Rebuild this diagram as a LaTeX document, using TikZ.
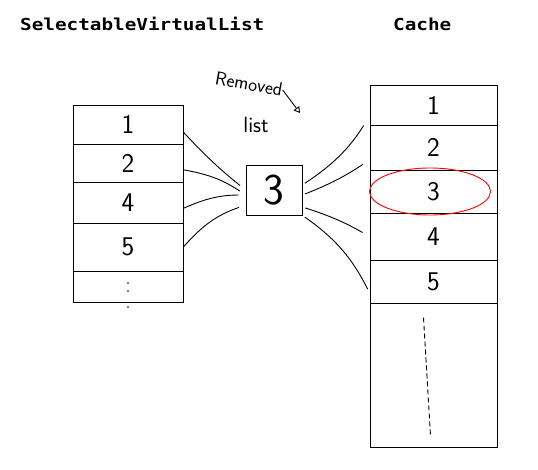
\documentclass[tikz,border=0pt]{standalone}
\usepackage{fontspec}
\usetikzlibrary{arrows.meta}
\newfontfamily\titlefont[FakeStretch=1.17]{DejaVu Sans Mono}
\newcommand{\handfont}{\sffamily\fontsize{27}{27}\selectfont}
\tikzset{
 heading/.style={anchor=base west,inner sep=0,font=\titlefont\bfseries\fontsize{16.5}{18}\selectfont},
 slot/.style={draw,line width=.9pt,minimum width=110pt,inner sep=0,font=\handfont},
 cacheslot/.style={slot,minimum width=127pt},
 holder/.style={draw,line width=.9pt,minimum width=56pt,minimum height=50pt,inner sep=0,font=\sffamily\fontsize{44}{44}\selectfont},
 link/.style={line width=.9pt,shorten >=7pt},
 cachelink/.style={line width=.9pt,shorten <=3pt},
 ring/.style={draw=red,line width=.9pt},
 scribble/.style={inner sep=0,font=\sffamily\fontsize{19}{19}\selectfont},
 pointer/.style={line width=.9pt,-{Triangle[open,length=6pt,width=7pt]}}
}
\begin{document}
\begin{tikzpicture}[x=1pt,y=1pt]
\path[use as bounding box] (0,0) rectangle (538,470);
\node[heading] (T1) at (20,439) {SelectableVirtualList};
\node[heading] (T2) at (393,439) {Cache};
% list on the left
\node[slot,minimum height=39pt] (L1) at (128,345.5) {1};
\node[slot,minimum height=38pt] (L2) at (128,307) {2};
\node[slot,minimum height=41pt] (L3) at (128,267.5) {4};
\node[slot,minimum height=48pt] (L4) at (128,223) {5};
\node[slot,minimum height=31pt] (L5) at (128,183.5) {};
\foreach \dy in {3.5,-4.5,-20.5}
 \fill ([yshift=\dy pt]L5.center) circle (.8pt);
% removed item
\node[holder] (R) at (274,280) {3};
\node[scribble,rotate=-10] (RM) at (249,386) {Removed};
\node[scribble,font=\sffamily\fontsize{22}{22}\selectfont] (RL) at (256,345) {list};
\coordinate (RT) at (300,357);
\draw[pointer] (RM.east) -- (RT);
% cache on the right
\node[cacheslot,minimum height=40pt] (C1) at (433.5,365) {1};
\node[cacheslot,minimum height=45pt] (C2) at (433.5,322.5) {2};
\node[cacheslot,minimum height=43pt] (C3) at (433.5,278.5) {3};
\node[cacheslot,minimum height=47pt] (C4) at (433.5,233.5) {4};
\node[cacheslot,minimum height=43pt] (C5) at (433.5,188.5) {5};
\node[cacheslot,minimum height=144pt] (C6) at (433.5,95) {};
\draw[line width=.9pt,dash pattern=on 5pt off 3pt] ([xshift=-10pt,yshift=-15pt]C6.north) -- ([xshift=-3pt,yshift=12pt]C6.south);
\draw[ring] ([xshift=-3.5pt]C3.center) ellipse [x radius=60.5pt,y radius=23.5pt];
% links
\draw[link] (L1.-8) to[bend right=4] (R.180);
\draw[link] (L2.-7) to[bend left=12] (R.190);
\draw[link] (L3.-6) to[bend left=12] (R.190);
\draw[link] (L4.east) to[bend left=15] (R.208);
\draw[cachelink,shorten >=11pt] (R.10) to[bend right=12] (C1.190);
\draw[cachelink,shorten >=8pt] (R.-10) to[bend right=6] (C2.191);
\draw[cachelink,shorten >=8pt] (R.-31) to[bend left=6] (C4.west);
\draw[cachelink,shorten >=4pt] (R.south east) to[bend left=14] (C5.190);
\end{tikzpicture}
\end{document}
